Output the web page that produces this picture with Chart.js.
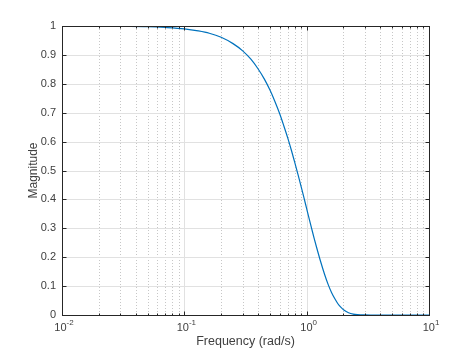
<!DOCTYPE html>
<html><head><meta charset="utf-8">
<script src="https://cdn.jsdelivr.net/npm/chart.js@4/dist/chart.umd.min.js"></script>
<style>html,body{margin:0;padding:0;background:#fff}#wrap{width:474px;height:355px}</style>
</head><body><div id="wrap"><canvas id="c" width="474" height="355"></canvas></div>
<script>
// Frequency (rad/s) and magnitude
const frequency = [0.01,0.02,0.03,0.05,0.07,0.1,0.13,0.16,0.2,0.25,0.3,0.35,0.4,0.45,0.5,0.55,0.6,0.65,0.7,0.75,0.8,0.85,0.9,0.95,1.0,1.05,1.1,1.15,1.2,1.3,1.4,1.5,1.6,1.7,1.8,1.9,2.0,2.2,2.4,2.6,2.8,3.0,3.5,4,5,7,10];
const magnitude = [1.000,1.000,0.999,0.998,0.995,0.990,0.983,0.975,0.961,0.939,0.914,0.885,0.852,0.817,0.779,0.739,0.698,0.655,0.613,0.570,0.527,0.486,0.445,0.406,0.368,0.332,0.298,0.266,0.237,0.185,0.141,0.105,0.077,0.056,0.039,0.027,0.018,0.008,0.003,0.001,0.0004,0.0001,0,0,0,0,0];
const xMajorTicks = [0.01,0.1,1,10];
const xTickExponents = ['-2','-1','0','1'];
const yTicks = [0,0.1,0.2,0.3,0.4,0.5,0.6,0.7,0.8,0.9,1];

const TXT = '#404040';
const FONT = '"Liberation Sans", Arial, sans-serif';

const gridPlugin = {
  id: 'matlabGrid',
  beforeDatasetsDraw(chart) {
    const {ctx, chartArea: a, scales: {x, y}} = chart;
    ctx.save();
    const minors = [];
    for (let d = -2; d < 1; d++) for (let m = 2; m <= 9; m++) minors.push(m * Math.pow(10, d));
    ctx.strokeStyle = 'rgba(0,0,0,0.22)';
    ctx.lineWidth = 1;
    ctx.setLineDash([1, 2]);
    minors.forEach(v => {
      const px = Math.round(x.getPixelForValue(v)) + 0.5;
      ctx.beginPath(); ctx.moveTo(px, a.top); ctx.lineTo(px, a.bottom); ctx.stroke();
    });
    ctx.setLineDash([]);
    ctx.strokeStyle = '#e1e1e1';
    xMajorTicks.forEach(v => {
      const px = Math.round(x.getPixelForValue(v)) + 0.5;
      ctx.beginPath(); ctx.moveTo(px, a.top); ctx.lineTo(px, a.bottom); ctx.stroke();
    });
    yTicks.forEach(v => {
      const py = Math.round(y.getPixelForValue(v)) + 0.5;
      ctx.beginPath(); ctx.moveTo(a.left, py); ctx.lineTo(a.right, py); ctx.stroke();
    });
    ctx.restore();
  },
  afterDatasetsDraw(chart) {
    const {ctx, chartArea: a, scales: {x, y}} = chart;
    ctx.save();
    ctx.strokeStyle = '#262626';
    ctx.lineWidth = 1;
    const L = Math.round(a.left) + 0.5, R = Math.round(a.right) + 0.5;
    const T = Math.round(a.top) + 0.5, B = Math.round(a.bottom) + 0.5;
    ctx.strokeRect(L, T, R - L, B - T);
    yTicks.forEach(v => {
      const py = Math.round(y.getPixelForValue(v)) + 0.5;
      ctx.beginPath(); ctx.moveTo(L, py); ctx.lineTo(L + 4, py);
      ctx.moveTo(R, py); ctx.lineTo(R - 4, py); ctx.stroke();
    });
    const minors = [];
    for (let d = -2; d < 1; d++) for (let m = 2; m <= 9; m++) minors.push(m * Math.pow(10, d));
    xMajorTicks.forEach(v => {
      const px = Math.round(x.getPixelForValue(v)) + 0.5;
      ctx.beginPath(); ctx.moveTo(px, B); ctx.lineTo(px, B - 4);
      ctx.moveTo(px, T); ctx.lineTo(px, T + 4); ctx.stroke();
    });
    minors.forEach(v => {
      const px = Math.round(x.getPixelForValue(v)) + 0.5;
      ctx.beginPath(); ctx.moveTo(px, B); ctx.lineTo(px, B - 2);
      ctx.moveTo(px, T); ctx.lineTo(px, T + 2); ctx.stroke();
    });
    ctx.fillStyle = TXT;
    ctx.textBaseline = 'alphabetic';
    xMajorTicks.forEach((v, i) => {
      const px = x.getPixelForValue(v);
      ctx.font = '11px ' + FONT;
      const bw = ctx.measureText('10').width;
      ctx.font = '8px ' + FONT;
      const ew = ctx.measureText(xTickExponents[i]).width;
      const start = px - (bw + ew) / 2 + 2;
      ctx.font = '11px ' + FONT;
      ctx.textAlign = 'left';
      ctx.fillText('10', start, B + 15);
      ctx.font = '8px ' + FONT;
      ctx.fillText(xTickExponents[i], start + bw, B + 9);
    });
    ctx.restore();
  }
};

new Chart(document.getElementById('c'), {
  type: 'line',
  data: {
    datasets: [{
      data: frequency.map((f, i) => ({x: f, y: magnitude[i]})),
      borderColor: '#0072BD',
      borderWidth: 1.2,
      pointRadius: 0,
      cubicInterpolationMode: 'monotone',
      fill: false
    }]
  },
  options: {
    responsive: false,
    animation: false,
    devicePixelRatio: 1,
    layout: {padding: {left: 0, right: 45, top: 26, bottom: 0}},
    plugins: {legend: {display: false}, tooltip: {enabled: false}},
    scales: {
      x: {
        type: 'logarithmic', min: 0.01, max: 10,
        afterBuildTicks: s => { s.ticks = xMajorTicks.map(v => ({value: v})); },
        afterFit: s => { s.height = 40; },
        grid: {display: false, drawTicks: false},
        border: {display: false},
        ticks: {callback: () => '', padding: 0, font: {size: 11, family: FONT}},
        title: {display: true, text: 'Frequency (rad/s)', color: TXT, font: {size: 12.5, family: FONT}, padding: {top: 0, bottom: 6}}
      },
      y: {
        min: 0, max: 1,
        afterBuildTicks: s => { s.ticks = yTicks.map(v => ({value: v})); },
        afterFit: s => { s.width = 62; },
        grid: {display: false, drawTicks: false},
        border: {display: false},
        ticks: {color: TXT, padding: 6, font: {size: 11, family: FONT}, callback: v => String(Math.round(v * 10) / 10)},
        title: {display: true, text: 'Magnitude', color: TXT, font: {size: 12, family: FONT}, padding: {top: 26, bottom: 0}}
      }
    }
  },
  plugins: [gridPlugin]
});
</script></body></html>
